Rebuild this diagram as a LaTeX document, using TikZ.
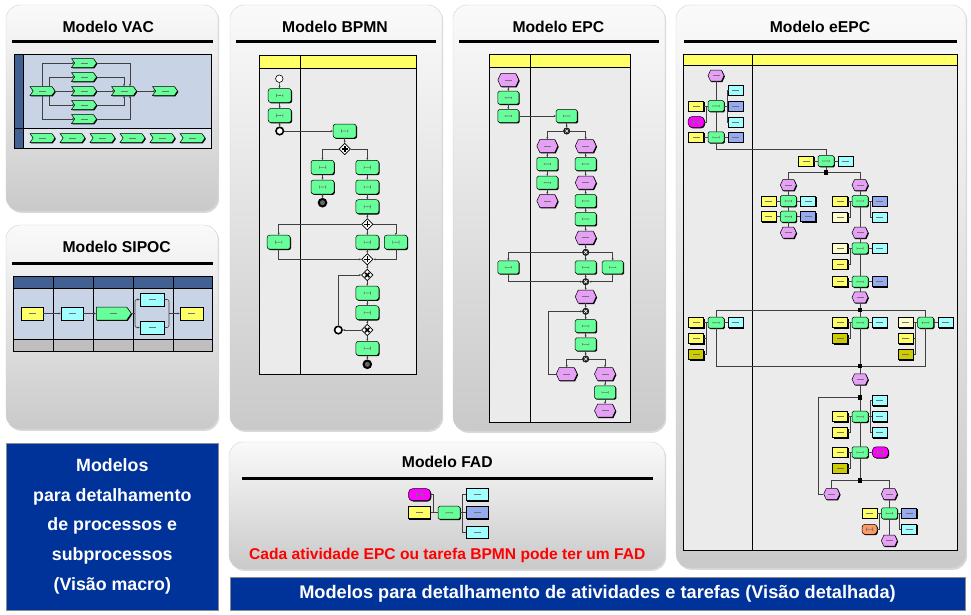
\documentclass[tikz,border=0pt]{standalone}
\usepackage{fontspec}
\setmainfont{Liberation Sans}
\usetikzlibrary{shapes.geometric,shapes.symbols,arrows.meta,shadows,positioning}
\definecolor{navy}{RGB}{0,51,153}
\definecolor{lanebg}{RGB}{200,212,230}
\definecolor{lanelt}{RGB}{224,230,238}
\definecolor{lanehd}{RGB}{66,96,146}
\definecolor{swim}{RGB}{235,235,235}
\definecolor{hdyellow}{RGB}{255,255,102}
\definecolor{fngreen}{RGB}{102,255,153}
\definecolor{evlilac}{RGB}{230,160,245}
\definecolor{ouyellow}{RGB}{255,255,102}
\definecolor{doccyan}{RGB}{160,255,255}
\definecolor{sysblue}{RGB}{150,170,240}
\definecolor{olivebox}{RGB}{204,204,0}
\definecolor{creambox}{RGB}{255,255,204}
\definecolor{salmonbox}{RGB}{255,153,102}
\definecolor{magentabox}{RGB}{255,0,255}
\tikzset{
  panel/.style={draw=black!18,rounded corners=14pt,top color=black!2,middle color=black!13,
    bottom color=black!21,drop shadow={shadow xshift=1.2pt,shadow yshift=-1.8pt,opacity=0.3}},
  ptitle/.style={font=\fontsize{15.7}{18}\selectfont\bfseries},
  prule/.style={line width=2.6pt},
  navybox/.style={draw=black!45,fill=navy,text=white,align=center,inner sep=0pt,
    font=\fontsize{17.8}{29.7}\selectfont\bfseries},
  frame/.style={draw=black,line width=0.8pt},
  mini/.style={draw=black,line width=0.5pt,inner sep=0pt,
    drop shadow={shadow xshift=0.9pt,shadow yshift=-0.9pt,fill=black,opacity=1},
    path picture={\fill[black!55,draw=none] ([xshift=-3.5pt,yshift=-0.3pt]path picture bounding box.center)
      rectangle ([xshift=3.5pt,yshift=0.3pt]path picture bounding box.center);}},
  fn/.style={mini,rectangle,rounded corners=1.5pt,fill=fngreen,minimum width=16pt,minimum height=11pt},
  big/.style={minimum width=21pt,minimum height=13pt},
  task/.style={fn,rounded corners=2.5pt,minimum width=23pt,minimum height=14pt},
  ev/.style={mini,signal,signal to=east and west,signal pointer angle=130,fill=evlilac,
    minimum width=16pt,minimum height=11pt},
  chev/.style={mini,signal,signal from=west,signal to=east,signal pointer angle=110,
    fill=fngreen,minimum width=25pt,minimum height=9pt},
  obj/.style={mini,rectangle,minimum width=15pt,minimum height=10pt},
  ou/.style={obj,fill=ouyellow},
  doc/.style={obj,fill=doccyan},
  sys/.style={obj,fill=sysblue},
  olv/.style={obj,fill=olivebox},
  crm/.style={obj,fill=creambox},
  risk/.style={obj,rounded corners=3pt,fill=salmonbox},
  mev/.style={mini,rectangle,rounded corners=4pt,fill=magentabox,minimum width=16pt,minimum height=11pt},
  gw/.style={diamond,draw=black,line width=0.7pt,fill=white,minimum size=11.5pt,inner sep=0pt},
  gwand/.style={gw,path picture={\draw[line width=1.6pt]
      ([yshift=3pt]path picture bounding box.center) -- ([yshift=-3pt]path picture bounding box.center)
      ([xshift=-3pt]path picture bounding box.center) -- ([xshift=3pt]path picture bounding box.center);}},
  gwxor/.style={gw,path picture={\draw[line width=1.6pt]
      ([shift={(-2.2pt,-2.2pt)}]path picture bounding box.center) -- ([shift={(2.2pt,2.2pt)}]path picture bounding box.center)
      ([shift={(-2.2pt,2.2pt)}]path picture bounding box.center) -- ([shift={(2.2pt,-2.2pt)}]path picture bounding box.center);}},
  bstart/.style={circle,draw=black,line width=0.6pt,fill=white,minimum size=7.5pt,inner sep=0pt},
  bmid/.style={bstart,line width=1.6pt},
  bstop/.style={bstart,line width=2pt,fill=black!60},
  econ/.style={circle,draw=black,fill=black!85,minimum size=6.5pt,inner sep=0pt,
    path picture={\draw[white,line width=0.6pt]
      ([shift={(-1.5pt,-1.5pt)}]path picture bounding box.center) -- ([shift={(1.5pt,1.5pt)}]path picture bounding box.center)
      ([shift={(-1.5pt,1.5pt)}]path picture bounding box.center) -- ([shift={(1.5pt,-1.5pt)}]path picture bounding box.center);}},
  xcon/.style={rectangle,fill=black,minimum size=4.5pt,inner sep=0pt},
  cn/.style={draw=black!75,line width=0.6pt},
  ar/.style={cn,-{Stealth[length=2.2pt,width=2pt]}},
}

\begin{document}
\begin{tikzpicture}[x=1pt,y=-1pt,node distance=3.8pt]
  \useasboundingbox (0,0) rectangle (971,614);

  % panels
  \path[panel] (6,5) rectangle (218,211);
  \path[panel] (6,225) rectangle (218,429);
  \path[panel] (230,5) rectangle (442,430);
  \path[panel] (453,5) rectangle (665,431);
  \path[panel] (676,5) rectangle (966,568);
  \path[panel] (229,442) rectangle (665,569);

  \node[ptitle] (tvac) at (108.3,26.7) {Modelo VAC};
  \node[ptitle] (tsipoc) at (116.7,246.7) {Modelo SIPOC};
  \node[ptitle] (tbpmn) at (335,26.7) {Modelo BPMN};
  \node[ptitle] (tepc) at (558.3,26.7) {Modelo EPC};
  \node[ptitle] (teepc) at (820,26.7) {Modelo eEPC};
  \node[ptitle] (tfad) at (447.3,461.7) {Modelo FAD};
  \draw[prule] (12.3,41.7) -- (212.7,41.7);
  \draw[prule] (12.3,263.3) -- (212.7,263.3);
  \draw[prule] (235.7,41.7) -- (435.7,41.7);
  \draw[prule] (459.3,41.7) -- (659.3,41.7);
  \draw[prule] (684.3,41.7) -- (957.3,41.7);
  \draw[prule] (242.3,478.3) -- (653.3,478.3);

  % VAC
  \draw[frame,fill=lanebg] (14,54) rectangle (211,128);
  \draw[frame,fill=lanelt] (14,128) rectangle (211,148);
  \draw[frame,fill=lanehd] (14,54) rectangle (23,148);
  \draw[frame] (14,128) -- (23,128);
  \node[chev] (v0) at (42.5,91) {};
  \foreach \n/\y in {1/63,2/77,3/91,4/105,5/119}
    \node[chev] (v\n) at (84,\y) {};
  \node[chev] (v6) at (124,91) {};
  \node[chev] (v7) at (165,91) {};
  \foreach \n/\x in {1/42.5,2/72.5,3/102.5,4/132.5,5/162.5,6/192.5}
    \node[chev] (w\n) at (\x,138) {};
  \draw[ar] (v0.north) |- (v1);
  \draw[ar] (v0.south) |- (v5);
  \draw[ar] ([xshift=6.5pt]v0.north) |- (v2);
  \draw[ar] ([xshift=6.5pt]v0.south) |- (v4);
  \draw[ar] (v0) -- (v3);
  \draw[ar] (v1) -| ([xshift=6pt]v6.north);
  \draw[ar] (v5) -| ([xshift=6pt]v6.south);
  \draw[ar] (v2) -| (v6);
  \draw[ar] (v4) -| (v6);
  \draw[ar] (v3) -- (v6);
  \draw[ar] (v6) -- (v7);

  % SIPOC
  \draw[frame,fill=lanebg] (13,288) rectangle (212,339);
  \draw[frame,fill=black!25] (13,339) rectangle (212,351);
  \draw[frame,fill=lanehd] (13,276) rectangle (212,288);
  \foreach \x in {53,93,133,173}
    \draw[frame] (\x,276) -- (\x,351);
  \node[ou,minimum width=22pt,minimum height=13pt] (s1) at (32,313.5) {};
  \node[doc,minimum width=22pt,minimum height=13pt] (s2) at (72,313.5) {};
  \node[chev,minimum width=35pt,minimum height=13pt,signal from=nowhere] (s3) at (111.5,313.5) {};
  \node[doc,minimum width=24pt,minimum height=13pt] (s4) at (152,299.5) {};
  \node[doc,minimum width=24pt,minimum height=13pt] (s5) at (152,327.5) {};
  \node[ou,minimum width=23pt,minimum height=13pt] (s6) at (191.5,313.5) {};
  \coordinate (sfork) at (135,313.5);
  \coordinate (sjoin) at (169,313.5);
  \draw[ar] (s1) -- (s2);
  \draw[ar] (s2) -- (s3);
  \draw[cn] (s3) -- (sfork);
  \draw[ar,rounded corners=2pt] (sfork) |- (s4);
  \draw[ar,rounded corners=2pt] (sfork) |- (s5);
  \draw[cn,rounded corners=2pt] (s4) -| (sjoin);
  \draw[cn,rounded corners=2pt] (s5) -| (sjoin);
  \draw[ar] (sjoin) -- (s6);

  % BPMN
  \draw[frame,fill=swim] (259.3,55) rectangle (416.7,374.3);
  \draw[frame,fill=hdyellow] (259.3,55) rectangle (416.7,68.3);
  \draw[frame] (300.7,55) -- (300.7,374.3);
  \node[bstart] (b0) at (279.3,78.7) {};
  \node[task] (b1) at (279.7,95.5) {};
  \node[task] (b2) at (279.7,115.5) {};
  \node[bmid] (b3) at (279.7,131) {};
  \node[task] (b4) at (344.7,131) {};
  \node[gwand] (g1) at (344.7,149) {};
  \node[task] (b5) at (322.5,167.3) {};
  \node[task] (b6) at (322.5,187) {};
  \node[bstop] (b7) at (322.5,202.7) {};
  \node[task] (b8) at (367.3,167.3) {};
  \node[task] (b9) at (367.3,187) {};
  \node[task] (b10) at (367.3,206.7) {};
  \node[gwand] (g2) at (367.3,224.3) {};
  \node[task] (b11) at (278.7,242.2) {};
  \node[task] (b12) at (367.3,242.2) {};
  \node[task] (b13) at (395.8,242.2) {};
  \node[gwand] (g3) at (367.3,259.3) {};
  \node[gwxor] (g4) at (367.3,275) {};
  \node[task] (b14) at (367.3,293) {};
  \node[task] (b15) at (367.3,312.7) {};
  \node[gwxor] (g5) at (367.3,330) {};
  \node[bmid] (b16) at (338.3,330) {};
  \node[task] (b17) at (367.3,348.3) {};
  \node[bstop] (b18) at (367.3,364.3) {};
  \draw[ar] (b0) -- (b1);
  \draw[ar] (b1) -- (b2);
  \draw[ar] (b2) -- (b3);
  \draw[ar] (b3) -- (b4);
  \draw[ar] (b4) -- (g1);
  \draw[ar] (g1) -| (b5);
  \draw[ar] (g1) -| (b8);
  \draw[ar] (b5) -- (b6);
  \draw[ar] (b6) -- (b7);
  \draw[ar] (b8) -- (b9);
  \draw[ar] (b9) -- (b10);
  \draw[ar] (b10) -- (g2);
  \draw[ar] (g2) -| (b11);
  \draw[ar] (g2) -- (b12);
  \draw[ar] (g2) -| (b13);
  \draw[ar] (b11) |- (g3);
  \draw[ar] (b12) -- (g3);
  \draw[ar] (b13) |- (g3);
  \draw[ar] (g3) -- (g4);
  \draw[ar] (g4) -- (b14);
  \draw[ar] (b14) -- (b15);
  \draw[ar] (b15) -- (g5);
  \draw[ar] (g5) -- (b16);
  \draw[ar] (b16) |- (g4);
  \draw[ar] (g5) -- (b17);
  \draw[ar] (b17) -- (b18);

  % EPC
  \draw[frame,fill=swim] (489.3,54.3) rectangle (630.7,422.3);
  \draw[frame,fill=hdyellow] (489.3,54.3) rectangle (630.7,67.3);
  \draw[frame] (530.7,54.3) -- (530.7,422.3);
  \node[ev,big] (e1) at (508.3,80) {};
  \node[fn,big] (e2) at (508.3,97.7) {};
  \node[fn,big] (e3) at (508.3,116) {};
  \node[fn,big] (e4) at (566.7,116) {};
  \node[econ] (c1) at (566.7,131) {};
  \node[ev,big] (e5) at (547.3,146) {};
  \node[fn,big] (e6) at (547.3,164) {};
  \node[fn,big] (e7) at (547.3,182.7) {};
  \node[ev,big] (e8) at (547.3,201) {};
  \node[ev,big] (e9) at (585.7,146) {};
  \node[fn,big] (e10) at (585.7,164) {};
  \node[ev,big] (e11) at (585.7,182.7) {};
  \node[fn,big] (e12) at (585.7,201) {};
  \node[fn,big] (e13) at (585.7,219) {};
  \node[ev,big] (e14) at (585.7,237.7) {};
  \node[econ] (c2) at (585.7,252.3) {};
  \node[fn,big] (e15) at (508.3,267.3) {};
  \node[fn,big] (e16) at (585.7,267.3) {};
  \node[fn,big] (e17) at (612.7,267.3) {};
  \node[econ] (c3) at (585.7,281.7) {};
  \node[ev,big] (e18) at (585.7,296.7) {};
  \node[econ] (c4) at (585.7,311.3) {};
  \node[fn,big] (e19) at (585.7,326) {};
  \node[fn,big] (e20) at (585.7,344.3) {};
  \node[econ] (c5) at (585.7,359) {};
  \node[ev,big] (e21) at (566.7,374) {};
  \node[ev,big] (e22) at (605,374) {};
  \node[fn,big] (e23) at (605,392.3) {};
  \node[ev,big] (e24) at (605,410.7) {};
  \draw[ar] (e1) -- (e2);
  \draw[ar] (e2) -- (e3);
  \draw[ar] (e3) -- (e4);
  \draw[ar] (e4) -- (c1);
  \draw[ar] (c1) -| (e5);
  \draw[ar] (c1) -| (e9);
  \draw[ar] (e5) -- (e6);
  \draw[ar] (e6) -- (e7);
  \draw[ar] (e7) -- (e8);
  \draw[ar] (e9) -- (e10);
  \draw[ar] (e10) -- (e11);
  \draw[ar] (e11) -- (e12);
  \draw[ar] (e12) -- (e13);
  \draw[ar] (e13) -- (e14);
  \draw[ar] (e14) -- (c2);
  \draw[ar] (c2) -| (e15);
  \draw[ar] (c2) -- (e16);
  \draw[ar] (c2) -| (e17);
  \draw[ar] (e15) |- (c3);
  \draw[ar] (e16) -- (c3);
  \draw[ar] (e17) |- (c3);
  \draw[ar] (c3) -- (e18);
  \draw[ar] (e18) -- (c4);
  \draw[ar] (c4) -- (e19);
  \draw[ar] (e19) -- (e20);
  \draw[ar] (e20) -- (c5);
  \draw[ar] (c5) -| (e21);
  \draw[ar] (c5) -| (e22);
  \draw[ar] (e22) -- (e23);
  \draw[ar] (e23) -- (e24);
  \draw[ar] (e21.west) -- ++(-8,0) |- (c4);

  % eEPC
  \draw[frame,fill=swim] (683.3,54.3) rectangle (957.3,550);
  \draw[frame,fill=hdyellow] (683.3,54.3) rectangle (957.3,65.7);
  \draw[frame] (752.3,54.3) -- (752.3,550);
  \node[ev] (p1) at (716,75.7) {};
  \node[fn] (p2) at (716,106) {};
  \node[ou,left=of p2] (p3) {};
  \node[mev,below=5pt of p3] (p4) {};
  \node[sys,right=of p2] (p6) {};
  \node[doc,above=5.5pt of p6] (p5) {};
  \node[doc,below=5.5pt of p6] (p7) {};
  \node[fn] (p8) at (716,137.3) {};
  \node[ou,left=of p8] (p9) {};
  \node[sys,right=of p8] (p10) {};
  \node[fn] (p11) at (826,161) {};
  \node[ou,left=of p11] (p12) {};
  \node[doc,right=of p11] (p13) {};
  \node[xcon] (k1) at (826,172.7) {};
  \node[ev] (p14) at (788.3,185) {};
  \node[fn] (p15) at (788.3,201) {};
  \node[ou,left=of p15] (p16) {};
  \node[doc,right=of p15] (p17) {};
  \node[fn] (p18) at (788.3,216.7) {};
  \node[ou,left=of p18] (p19) {};
  \node[sys,right=of p18] (p20) {};
  \node[ev] (p21) at (788.3,232.7) {};
  \node[ev] (p22) at (860,185) {};
  \node[fn] (p23) at (860,201) {};
  \node[ou,left=of p23] (p24) {};
  \node[sys,right=of p23] (p25) {};
  \node[crm,below=5.5pt of p24] (p26) {};
  \node[doc,below=5.5pt of p25] (p27) {};
  \node[ev] (p28) at (860,232.7) {};
  \node[fn] (p29) at (860,248.3) {};
  \node[crm,left=of p29] (p30) {};
  \node[doc,right=of p29] (p31) {};
  \node[ou,below=5.5pt of p30] (p32) {};
  \node[fn] (p33) at (860,281.7) {};
  \node[ou,left=of p33] (p34) {};
  \node[sys,right=of p33] (p35) {};
  \node[ev] (p36) at (860,297.3) {};
  \node[xcon] (k2) at (860,310) {};
  \node[fn] (p37) at (716,322.7) {};
  \node[ou,left=of p37] (p38) {};
  \node[doc,right=of p37] (p39) {};
  \node[ou,below=5.5pt of p38] (p40) {};
  \node[olv,below=5.5pt of p40] (p41) {};
  \node[fn] (p42) at (860,322.7) {};
  \node[ou,left=of p42] (p43) {};
  \node[doc,right=of p42] (p44) {};
  \node[olv,below=5.5pt of p43] (p45) {};
  \node[fn] (p46) at (925.7,322.7) {};
  \node[crm,left=of p46] (p47) {};
  \node[doc,right=of p46] (p48) {};
  \node[ou,below=5.5pt of p47] (p49) {};
  \node[olv,below=5.5pt of p49] (p50) {};
  \node[xcon] (k3) at (860,366) {};
  \node[ev] (p51) at (860,379.3) {};
  \node[xcon] (k4) at (860,397.3) {};
  \node[fn] (p52) at (860,416.7) {};
  \node[ou,left=of p52] (p53) {};
  \node[doc,right=of p52] (p55) {};
  \node[doc,above=5.5pt of p55] (p54) {};
  \node[doc,below=5.5pt of p55] (p56) {};
  \node[ou,below=5.5pt of p53] (p57) {};
  \node[fn] (p58) at (860,452.3) {};
  \node[ou,left=of p58] (p59) {};
  \node[mev,right=of p58] (p60) {};
  \node[olv,below=5.5pt of p59] (p61) {};
  \node[xcon] (k5) at (860,480.7) {};
  \node[ev] (p62) at (831.7,494) {};
  \node[ev] (p63) at (889.3,494) {};
  \node[fn] (p64) at (889.3,513.3) {};
  \node[ou,left=of p64] (p65) {};
  \node[sys,right=of p64] (p66) {};
  \node[risk,below=5.5pt of p65] (p67) {};
  \node[doc,below=5.5pt of p66] (p68) {};
  \node[ev] (p69) at (889.3,540.7) {};

  \draw[cn] (p1) -- (p2);
  \draw[cn] (p3) -- (p2);
  \draw[cn] (p4.east) -- ++(2,0) |- (p2.west);
  \draw[cn] (p2) -- (p6);
  \draw[cn] (p2.east) -- ++(3.5,0) |- (p5.west);
  \draw[cn] (p2.east) -- ++(3.5,0) |- (p7.west);
  \draw[cn] (p2) -- (p8);
  \draw[cn] (p9) -- (p8);
  \draw[cn] (p8) -- (p10);
  \draw[cn] (p8.south) -- ++(0,6.5) -| (p11.north);
  \draw[cn] (p12) -- (p11);
  \draw[cn] (p11) -- (p13);
  \draw[cn] (p11) -- (k1);
  \draw[cn] (k1) -| (p14);
  \draw[cn] (k1) -| (p22);
  \draw[cn] (p14) -- (p15);
  \draw[cn] (p16) -- (p15);
  \draw[cn] (p15) -- (p17);
  \draw[cn] (p15) -- (p18);
  \draw[cn] (p19) -- (p18);
  \draw[cn] (p18) -- (p20);
  \draw[cn] (p18) -- (p21);
  \draw[cn] (p22) -- (p23);
  \draw[cn] (p24) -- (p23);
  \draw[cn] (p23) -- (p25);
  \draw[cn] (p26.east) -- ++(2,0) |- (p23.west);
  \draw[cn] (p27.west) -- ++(-2,0) |- (p23.east);
  \draw[cn] (p23) -- (p28);
  \draw[cn] (p28) -- (p29);
  \draw[cn] (p30) -- (p29);
  \draw[cn] (p29) -- (p31);
  \draw[cn] (p32.east) -- ++(2,0) |- (p29.west);
  \draw[cn] (p29) -- (p33);
  \draw[cn] (p34) -- (p33);
  \draw[cn] (p33) -- (p35);
  \draw[cn] (p33) -- (p36);
  \draw[cn] (p36) -- (k2);
  \draw[cn] (k2) -| (p37);
  \draw[cn] (k2) -- (p42);
  \draw[cn] (k2) -| (p46);
  \draw[cn] (p38) -- (p37);
  \draw[cn] (p37) -- (p39);
  \draw[cn] (p40.east) -- ++(2,0) |- (p37.west);
  \draw[cn] (p41.east) -- ++(2,0) |- (p37.west);
  \draw[cn] (p43) -- (p42);
  \draw[cn] (p42) -- (p44);
  \draw[cn] (p45.east) -- ++(2,0) |- (p42.west);
  \draw[cn] (p47) -- (p46);
  \draw[cn] (p46) -- (p48);
  \draw[cn] (p49.east) -- ++(2,0) |- (p46.west);
  \draw[cn] (p50.east) -- ++(2,0) |- (p46.west);
  \draw[cn] (p37) |- (k3);
  \draw[cn] (p42) -- (k3);
  \draw[cn] (p46) |- (k3);
  \draw[cn] (k3) -- (p51);
  \draw[cn] (p51) -- (k4);
  \draw[cn] (k4) -- (p52);
  \draw[cn] (p53) -- (p52);
  \draw[cn] (p52) -- (p55);
  \draw[cn] (p52.east) -- ++(2,0) |- (p54.west);
  \draw[cn] (p52.east) -- ++(2,0) |- (p56.west);
  \draw[cn] (p57.east) -- ++(2,0) |- (p52.west);
  \draw[cn] (p52) -- (p58);
  \draw[cn] (p59) -- (p58);
  \draw[cn] (p58) -- (p60);
  \draw[cn] (p61.east) -- ++(2,0) |- (p58.west);
  \draw[cn] (p58) -- (k5);
  \draw[cn] (k5) -| (p62);
  \draw[cn] (k5) -| (p63);
  \draw[cn] (p62.west) -- ++(-5.5,0) |- (k4);
  \draw[cn] (p63) -- (p64);
  \draw[cn] (p65) -- (p64);
  \draw[cn] (p64) -- (p66);
  \draw[cn] (p67.east) -- ++(2,0) |- (p64.west);
  \draw[cn] (p64.east) -- ++(2,0) |- (p68.west);
  \draw[cn] (p64) -- (p69);

  % FAD
  \node[fn,minimum width=22pt,minimum height=13pt] (f3) at (449,512.7) {};
  \node[ou,minimum width=22pt,minimum height=12pt,left=7pt of f3] (f2) {};
  \node[mev,minimum width=22pt,minimum height=12pt,above=5.5pt of f2] (f1) {};
  \node[sys,minimum width=22pt,minimum height=12pt,right=6pt of f3] (f5) {};
  \node[doc,minimum width=22pt,minimum height=12pt,above=5.5pt of f5] (f4) {};
  \node[doc,minimum width=22pt,minimum height=12pt,below=7pt of f5] (f6) {};
  \draw[cn] (f2) -- (f3);
  \draw[cn] (f1.east) -- ++(2.6,0) |- (f3.west);
  \draw[cn] (f3) -- (f5);
  \draw[cn] (f3.east) -- ++(2.3,0) |- (f4.west);
  \draw[cn] (f3.east) -- ++(2.3,0) |- (f6.west);
  \node[font=\fontsize{15.6}{18}\selectfont\bfseries,text=red] (fadnote) at (447.3,555)
    {Cada atividade EPC ou tarefa BPMN pode ter um FAD};

  % blue captions
  \node[navybox,minimum width=212pt,minimum height=167pt] (macro) at (112.3,526.3)
    {Modelos\\para detalhamento\\de processos e\\subprocessos\\(Visão macro)};
  \node[navybox,minimum width=735pt,minimum height=32.7pt,font=\fontsize{18.2}{20}\selectfont\bfseries]
    (detail) at (597.5,593.7)
    {Modelos para detalhamento de atividades e tarefas (Visão detalhada)};
\end{tikzpicture}
\end{document}
